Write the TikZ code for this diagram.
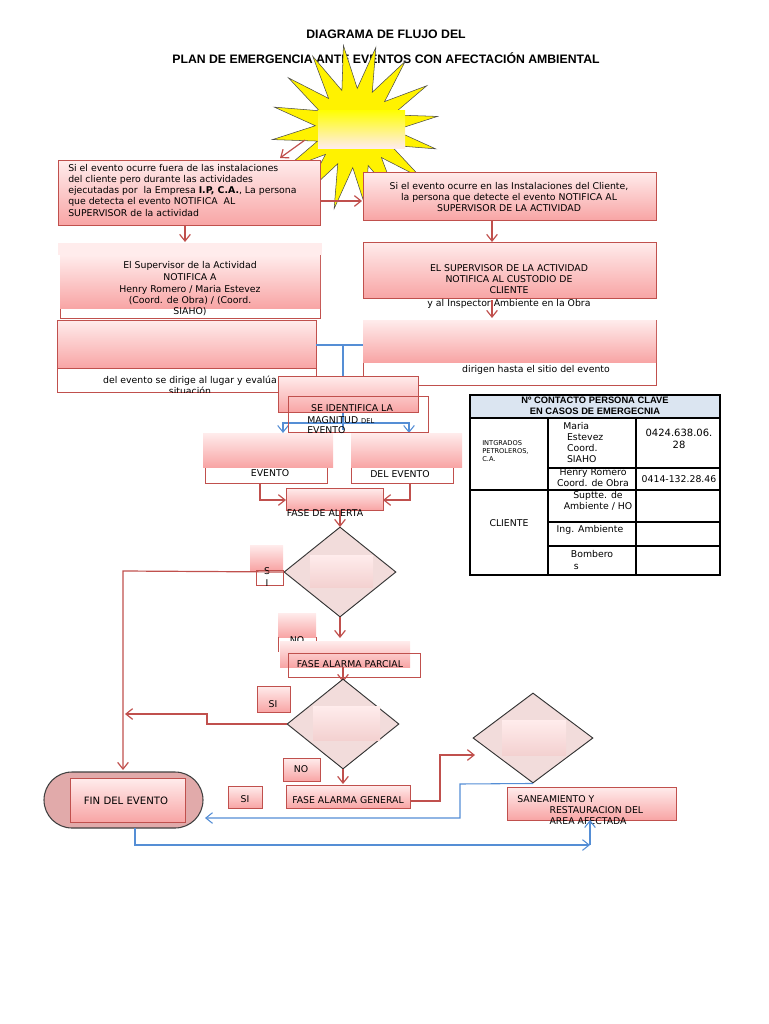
\documentclass[tikz,border=0pt]{standalone}
\usepackage{fontspec}
\setmainfont{DejaVu Sans}
\newfontfamily\titlef{Liberation Sans}
\usetikzlibrary{shapes.geometric,arrows.meta}
\definecolor{dred}{RGB}{192,80,77}
\definecolor{pk}{RGB}{248,165,165}
\definecolor{pkl}{RGB}{255,236,236}
\definecolor{dia}{RGB}{242,220,219}
\definecolor{blu}{RGB}{85,142,213}
\definecolor{hdr}{RGB}{219,229,241}
\definecolor{cap}{RGB}{225,170,170}
\begin{document}
\begin{tikzpicture}[x=0.75pt,y=-0.75pt,
  gb/.style={top color=pkl,bottom color=pk,draw=dred,line width=0.5pt},
  gbn/.style={top color=pkl,bottom color=pk},
  ob/.style={draw=dred,line width=0.6pt},
  rl/.style={draw=dred,line width=0.9pt},
  ra/.style={rl,-{Straight Barb[length=5pt,width=8pt]}},
  ba/.style={draw=blu,line width=0.8pt,-{Straight Barb[length=5pt,width=8pt]}},
  bl/.style={draw=blu,line width=0.8pt},
  di/.style={diamond,draw=black!80,fill=dia,line width=0.7pt,aspect=1.25},
  tx/.style={font=\fontsize{7}{8.4}\selectfont,inner sep=0pt,align=center},
  ttl/.style={font=\titlef\bfseries\fontsize{9.2}{11}\selectfont}]
\useasboundingbox (0,0) rectangle (768,1024);
\node[ttl] (t1) at (386,34) {DIAGRAMA DE FLUJO DEL};
\node[ttl] (t2) at (386,58) {PLAN DE EMERGENCIA ANTE EVENTOS CON AFECTACIÓN AMBIENTAL};
% star
\node[star,star points=16,star point ratio=2.1,fill=yellow,draw=black!70,minimum size=125pt,inner sep=0pt,rotate=8] (star) at (355,128) {};
\fill[top color=yellow,bottom color=pkl] (318,110) rectangle (405,148);
% box A
\draw[gb] (58,160) rectangle (320,225);
\node[tx,align=left,anchor=north west] (a) at (68,164) {Si el evento ocurre fuera de las instalaciones\\del cliente pero durante las actividades\\ejecutadas por \ la Empresa \textbf{I.P, C.A.}, La persona\\que detecta el evento NOTIFICA \ AL\\SUPERVISOR de la actividad};
\coordinate (s1) at (305,140); \coordinate (s2) at (280,158);
\draw[ra] (s1) -- (s2);
% box B
\draw[gb] (363,172) rectangle (656,220);
\node[tx] (b) at (509,197) {Si el evento ocurre en las Instalaciones del Cliente,\\la persona que detecte el evento NOTIFICA AL\\SUPERVISOR DE LA ACTIVIDAD};
\draw[ra] (320,201) -- (362,201);
\draw[ra] (492,220) -- (492,242);
\draw[ra] (185,225) -- (185,242);
% box C
\fill[pkl] (58,243) rectangle (322,255);
\draw[ob] (60,255) rectangle (320,318);
\fill[gbn] (60,255) rectangle (320,308);
\node[tx] (c) at (190,289) {El Supervisor de la Actividad\\NOTIFICA A\\[1pt] Henry Romero / Maria Estevez\\(Coord. de Obra) / (Coord.\\SIAHO)};
\fill[white] (60,319) rectangle (320,321);
% box D
\draw[gb] (363,242) rectangle (656,298);
\node[tx] (d) at (509,279) {EL SUPERVISOR DE LA ACTIVIDAD\\NOTIFICA AL CUSTODIO DE\\CLIENTE};
\node[tx] (d2) at (509,304) {y al Inspector Ambiente en la Obra};
\draw[ra] (492,300) -- (492,318);
% box E
\draw[ob] (57,368) rectangle (316,392);
\node[tx] (e) at (190,385) {del evento se dirige al lugar y evalúa\\situación};
\fill[white] (58,393) rectangle (316,400);
\draw[gb] (57,320) rectangle (316,368);
% box F
\draw[ob] (363,320) rectangle (656,385);
\fill[gbn] (363,320) rectangle (656,362);
\node[tx] (f) at (536,370) {dirigen hasta el sitio del evento};
% blue
\draw[bl] (316,345) -- (363,345);
\draw[bl] (343,345) -- (343,430);
\draw[ba] (343,423) -- (283,423) -- (283,433);
\draw[ba] (343,423) -- (409,423) -- (409,433);
% box G
\draw[gb] (278,376) rectangle (418,412);
\draw[ob] (288,396) rectangle (428,432);
\node[tx] (g) at (352,408) {SE IDENTIFICA LA};
\node[tx,anchor=west] (g2) at (307,420) {MAGNITUD {\fontsize{5}{6}\selectfont DEL}};
\node[tx,anchor=west] (g3) at (307,430) {EVENTO};
% H and I
\draw[ob] (205,467) rectangle (327,483);
\fill[gbn] (203,433) rectangle (333,467);
\node[tx] (h) at (270,473) {EVENTO};
\draw[ob] (351,467) rectangle (453,483);
\fill[gbn] (351,433) rectangle (462,467);
\node[tx] (i) at (400,474) {DEL EVENTO};
% J
\draw[gb] (286,488) rectangle (383,510);
\node[tx] (j) at (325,513) {FASE DE ALERTA};
\draw[ra] (260,483) -- (260,500) -- (286,500);
\draw[ra] (410,483) -- (410,500) -- (383,500);
\draw[ra] (340,510) -- (340,527);
% diamond 1
\node[di,minimum width=84pt,minimum height=67.5pt] (d1) at (340,572) {};
\fill[top color=pkl,bottom color=dia!80!pk] (310,555) rectangle (373,587);
\fill[gbn] (250,545) rectangle (283,570);
\draw[ob] (256,570) rectangle (283,585);
\node[tx] (si1) at (267,577) {S\\I};
\draw[ra] (d1.west) -- (123,571) -- (123,770);
\draw[ra] (d1.south) -- (340,638);
\fill[gbn] (278,613) rectangle (316,637);
\draw[ob] (278,637) -- (278,652) (316,637) -- (316,645);
\node[tx] (no1) at (297,640) {NO};
% parcial
\fill[gbn] (280,641) rectangle (410,667);
\draw[ob] (288,653) rectangle (420,677);
\node[tx] (p) at (350,664) {FASE ALARMA PARCIAL};
\draw[ra] (343,667) -- (343,682);
% diamond 2
\node[di,minimum width=84pt,minimum height=67.5pt] (d2n) at (343,724) {};
\fill[top color=pkl,bottom color=dia!80!pk] (313,706) rectangle (380,740);
\draw[gb] (257,686) rectangle (290,712);
\node[tx] (si2) at (273,704) {SI};
\draw[ra] (d2n.west) -- (207,724) -- (207,714) -- (125,714);
\draw[gb] (283,758) rectangle (320,781);
\node[tx] (no2) at (301,769) {NO};
\draw[ra] (d2n.south) -- (343,784);
% general
\draw[gb] (286,785) rectangle (410,808);
\node[tx] (gen) at (348,800) {FASE ALARMA GENERAL};
\draw[gb] (228,786) rectangle (262,808);
\node[tx] (si3) at (245,799) {SI};
% diamond 3
\node[di,minimum width=90pt,minimum height=67.5pt] (d3) at (533,738) {};
\fill[top color=pkl,bottom color=dia!80!pk] (502,720) rectangle (566,755);
\draw[ra] (410,801) -- (440,801) -- (440,755) -- (475,755);
% saneamiento
\draw[gb] (507,787) rectangle (676,820);
\node[tx,align=left,anchor=north west] (san) at (517,795) {SANEAMIENTO Y\\\hspace*{8.5mm}RESTAURACION DEL\\\hspace*{8.5mm}AREA AFECTADA};
% fin
\draw[fill=cap,draw=black!75,line width=0.8pt,rounded corners=21pt] (44,772) rectangle (203,828);
\draw[gb] (70,778) rectangle (185,822);
\node[tx,font=\fontsize{7.6}{8}\selectfont] (fin) at (126,801) {FIN DEL EVENTO};
% blue bottom
\draw[ba] (d3.south) -- (460,784) -- (460,818) -- (205,818);
\draw[ba] (135,828) -- (135,845) -- (590,845);
\draw[ba] (590,845) -- (590,820);
% table
\fill[hdr] (470,395) rectangle (720,418);
\draw[line width=0.8pt] (470,395) rectangle (720,575);
\draw[line width=0.8pt] (470,418) -- (720,418) (548,418) -- (548,575) (636,418) -- (636,575)
  (548,468) -- (720,468) (470,490) -- (720,490) (548,522) -- (720,522) (548,546) -- (720,546);
\node[tx,font=\titlef\bfseries\fontsize{7}{8}\selectfont] (th) at (595,406) {Nº CONTACTO PERSONA CLAVE\\EN CASOS DE EMERGECNIA};
\node[tx,align=left,anchor=west,font=\fontsize{5}{6}\selectfont] (c1) at (482,451) {INTGRADOS\\PETROLEROS,\\C.A.};
\node[tx,align=left,anchor=north west] (c2) at (563,422) {Maria\\\hspace*{1mm}Estevez\\\hspace*{1mm}Coord.\\\hspace*{1mm}SIAHO};
\node[tx,font=\fontsize{7.5}{9}\selectfont] (c3) at (679,439) {0424.638.06.\\28};
\node[tx] (c4) at (593,478) {Henry Romero\\Coord. de Obra};
\node[tx] (c5) at (679,479) {0414-132.28.46};
\node[tx] (c6) at (509,523) {CLIENTE};
\node[tx] (c7) at (598,501) {Suptte. de\\Ambiente / HO};
\node[tx] (c8) at (590,530) {Ing. Ambiente};
\node[tx,align=left] (c9) at (592,560) {Bombero\\\hspace*{0mm} s};
\end{tikzpicture}
\end{document}
